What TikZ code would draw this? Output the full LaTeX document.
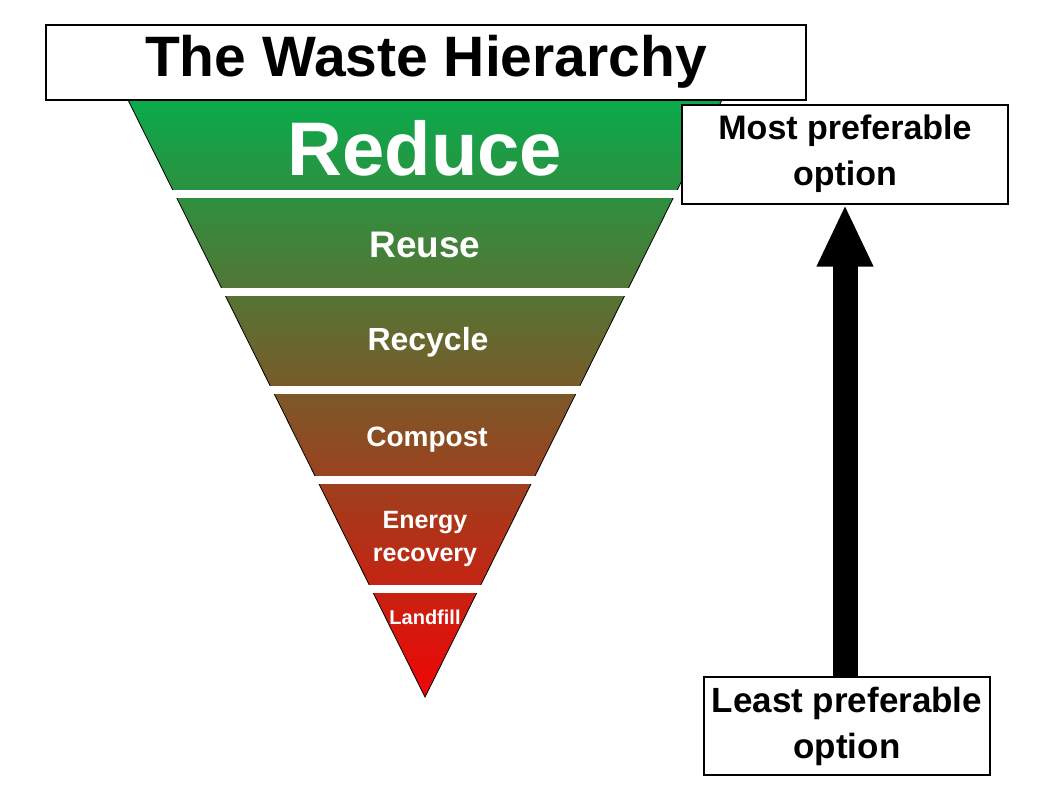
\documentclass[tikz,border=0pt]{standalone}
\usepackage{fontspec}
\setmainfont{Liberation Sans}
\usetikzlibrary{arrows.meta}
\definecolor{topgreen}{RGB}{10,170,75}
\definecolor{botred}{RGB}{240,5,5}
\tikzset{
  band/.style={text=white,font=\bfseries,align=center},
  sidebox/.style={draw,line width=2pt,fill=white,align=center,font=\bfseries\fontsize{34}{46}\selectfont}
}
\begin{document}
\begin{tikzpicture}[x=1pt,y=-1pt]
\useasboundingbox[fill=white] (0,0) rectangle (1057,807);
% triangle with colour fade
\shade[top color=topgreen,bottom color=botred,draw=black,thick] (128,100) -- (722,100) -- (425,697) -- cycle;
\foreach \y in {194,292,390,480,589}
  \fill[white] (100,\y-4) rectangle (750,\y+4);
% title
\node[draw,line width=2pt,fill=white,minimum width=760pt,minimum height=75pt,
  font=\bfseries\fontsize{57}{60}\selectfont] (title) at (426,62) {The Waste Hierarchy};
% bands
\node[band,font=\bfseries\fontsize{76}{80}\selectfont] (reduce) at (425,148) {Reduce};
\node[band,font=\bfseries\fontsize{37}{40}\selectfont] (reuse) at (425,245) {Reuse};
\node[band,font=\bfseries\fontsize{32}{36}\selectfont] (recycle) at (428,342) {Recycle};
\node[band,font=\bfseries\fontsize{28}{32}\selectfont] (compost) at (427,440) {Compost};
\node[band,font=\bfseries\fontsize{25}{33}\selectfont] (energy) at (425,539) {Energy\\recovery};
\node[band,font=\bfseries\fontsize{20}{22}\selectfont] (landfill) at (425,617) {Landfill};
% preference scale
\node[sidebox,minimum width=326pt,minimum height=99pt] (most) at (845,154) {Most preferable\\option};
\node[sidebox,minimum width=286pt,minimum height=98pt,font=\bfseries\fontsize{35}{46}\selectfont] (least) at (847,726) {Least preferable\\option};
\draw[line width=25pt,-{Triangle[width=52pt,length=62pt]}] ([yshift=-2pt]most.south |- least.north) -- (most.south);
\end{tikzpicture}
\end{document}
